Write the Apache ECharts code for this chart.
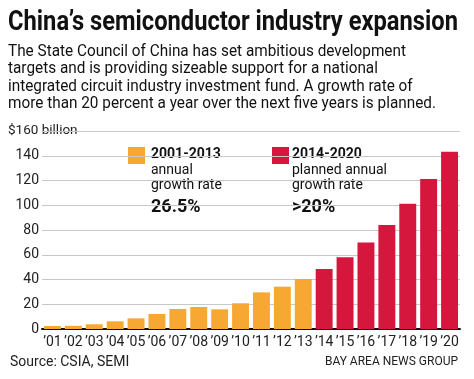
<!DOCTYPE html>
<html>
<head>
<meta charset="utf-8">
<script src="https://cdn.jsdelivr.net/npm/echarts@6/dist/echarts.min.js"></script>
<style>html,body{margin:0;padding:0;background:#fff}#c{width:474px;height:379px}</style>
</head>
<body>
<div id="c"></div>
<script>
var years = ["’01","’02","’03","’04","’05","’06","’07","’08","’09","’10","’11","’12","’13","’14","’15","’16","’17","’18","’19","’20"];
var actualValues = [2.4, 2.6, 3.8, 6.2, 8.6, 12.1, 16.2, 17.8, 15.9, 20.8, 29.6, 34.2, 40.4];
var plannedValues = [48.5, 57.9, 70, 84, 101.3, 121.2, 143.3];
var yTicks = [0, 20, 40, 60, 80, 100, 120, 140, 160];
var yTopLabel = "$160 billion";
var titleText = "China’s semiconductor industry expansion";
var subtitleLines = [
  "The State Council of China has set ambitious development",
  "targets and is providing sizeable support for a national",
  "integrated circuit industry investment fund. A growth rate of",
  "more than 20 percent a year over the next five years is planned."
];

var ORANGE = "#F6A833", RED = "#D5163D";
var data = actualValues.map(function(v){return {value:v, itemStyle:{color:ORANGE}};})
  .concat(plannedValues.map(function(v){return {value:v, itemStyle:{color:RED}};}));

var sans = 'Roboto,"Noto Sans",sans-serif';

var ctx = document.createElement('canvas').getContext('2d');
function fitScale(text, font, target){
  ctx.font = font;
  return target / ctx.measureText(text).width;
}
var titleFont = 'bold 28px ' + sans;
var titleScale = fitScale(titleText, titleFont, 450);
var subFont = '16px ' + sans;
var subScale = fitScale(subtitleLines[3], subFont, 428);

var chart = echarts.init(document.getElementById('c'));
chart.setOption({
  animation: false,
  grid: {left: 42, right: 14, top: 131, bottom: 50},
  xAxis: {
    type: 'category', data: years,
    axisTick: {show: false},
    axisLine: {lineStyle: {color: '#111', width: 2}},
    axisLabel: {color: '#222', fontFamily: sans, fontSize: 14, margin: 6, interval: 0}
  },
  yAxis: {
    type: 'value', min: 0, max: 160, interval: 20,
    axisLine: {show: false}, axisTick: {show: false},
    splitLine: {lineStyle: {color: '#c8c8c8', width: 1}},
    axisLabel: {color: '#222', fontFamily: sans, fontSize: 14, margin: 3,
      formatter: function(v){ return (v === yTicks[yTicks.length-1]) ? '' : String(v); }}
  },
  series: [{type: 'bar', data: data, barCategoryGap: '19%'}],
  graphic: [
    {type:'text', x: 8, y: 9, scaleX: titleScale, style:{text:titleText, font:titleFont, fill:'#111'}},
    {type:'text', x: 8, y: 43, scaleX: subScale, style:{text:subtitleLines.join('\n'), font:subFont, lineHeight: 17.5, fill:'#111'}},
    {type:'text', left: 8, top: 124, style:{text: yTopLabel, font:'13.5px '+sans, fill:'#222', backgroundColor:'#fff', padding:[0,4,0,0]}},
    {type:'rect', shape:{x:128, y:147, width:17, height:17}, style:{fill:ORANGE}},
    {type:'text', left: 151, top: 147, style:{text:"2001-2013", font:'bold 14px '+sans, fill:'#111'}},
    {type:'text', left: 151, top: 163, style:{text:"annual\ngrowth rate", font:'14px '+sans, lineHeight: 15, fill:'#111'}},
    {type:'text', left: 151, top: 198, style:{text:"26.5%", font:'bold 18px '+sans, fill:'#111'}},
    {type:'rect', shape:{x:272, y:147, width:17, height:17}, style:{fill:RED}},
    {type:'text', left: 292, top: 147, style:{text:"2014-2020", font:'bold 14px '+sans, fill:'#111'}},
    {type:'text', left: 292, top: 163, style:{text:"planned annual\ngrowth rate", font:'14px '+sans, lineHeight: 15, fill:'#111'}},
    {type:'text', left: 292, top: 198, style:{text:">20%", font:'bold 18px '+sans, fill:'#111'}},
    {type:'text', left: 10, top: 355, style:{text:"Source: CSIA, SEMI", font:'14px '+sans, fill:'#222'}},
    {type:'text', right: 16, top: 356, style:{text:"BAY AREA NEWS GROUP", font:'12px '+sans, fill:'#222'}}
  ]
});
</script>
</body>
</html>
